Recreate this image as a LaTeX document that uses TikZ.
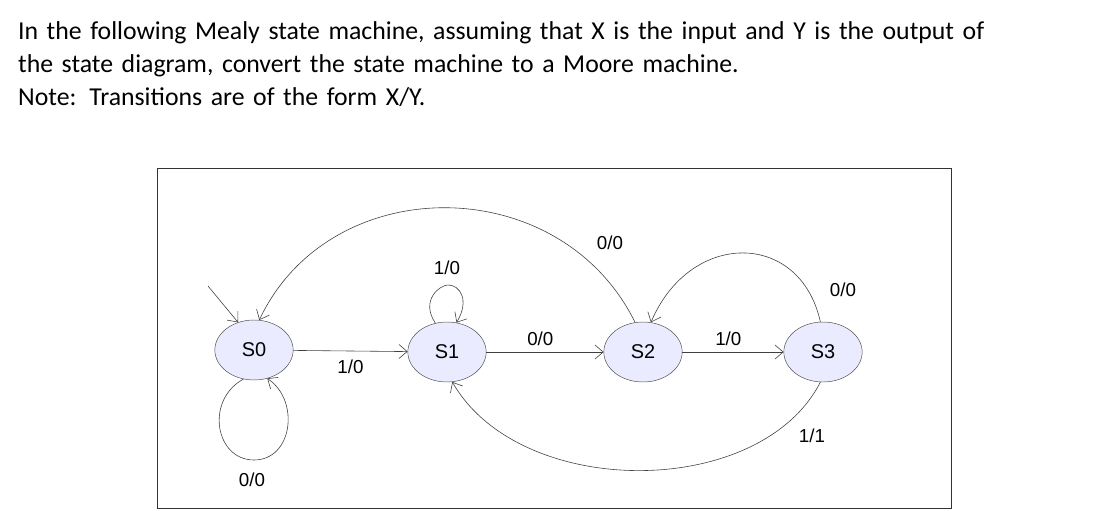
\documentclass[tikz,border=0pt]{standalone}
\usepackage{fontspec}
\setmainfont{Carlito}
\newfontfamily\diag{Liberation Sans}
\usetikzlibrary{shapes.geometric,arrows.meta}
\begin{document}
\begin{tikzpicture}[x=0.03cm,y=-0.03cm,
  st/.style={ellipse,draw=black!70,fill=blue!8,minimum width=2.35cm,minimum height=1.8cm,font=\diag\fontsize{17}{19}\selectfont},
  lbl/.style={font=\diag\fontsize{16}{18}\selectfont},
  tr/.style={draw=black!75,line width=0.5pt,-{Straight Barb[length=7pt,width=12pt]}}]
\useasboundingbox (0,0) rectangle (1096,511);
\node[anchor=west,font=\fontsize{22}{28}\selectfont,align=left,text width=31cm] (t) at (14,64) {In the following Mealy state machine, assuming that X is the input and Y is the output of\\the state diagram, convert the state machine to a Moore machine.\\Note: Transitions are of the form X/Y.};
\draw[black!80,line width=0.6pt] (157,168) rectangle (951,508);
\node[st] (s0) at (254,350) {S0};
\node[st] (s1) at (447,352) {S1};
\node[st] (s2) at (643,352) {S2};
\node[st] (s3) at (823,352) {S3};
\coordinate (init) at (208,286);
\draw[tr] (init) -- (s0.120);
\draw[tr] (s0) -- node[lbl,below,yshift=-4pt]{1/0} (s1);
\draw[tr] (s1) -- node[lbl,above,yshift=2pt,xshift=-4pt]{0/0} (s2);
\draw[tr] (s2) -- node[lbl,above,yshift=2pt,xshift=-4pt]{1/0} (s3);
\draw[tr] (s1.112) .. controls (420,300) and (440,285) .. (448,285) .. controls (460,285) and (470,300) .. (s1.72);
\node[lbl] (l1) at (447,268) {1/0};
\draw[tr] (s0.250) .. controls (205,400) and (215,460) .. (254,460) .. controls (293,460) and (300,400) .. (s0.-65);
\node[lbl] (l0) at (252,480) {0/0};
\draw[tr] (s2.105) .. controls (560,170) and (330,170) .. (s0.80);
\node[lbl] (l2) at (610,243) {0/0};
\draw[tr] (s3.95) .. controls (800,230) and (690,230) .. (s2.75);
\node[lbl] (l3) at (843,290) {0/0};
\draw[tr] (s3.-95) .. controls (760,500) and (520,500) .. (s1.-80);
\node[lbl] (l4) at (812,436) {1/1};
\end{tikzpicture}
\end{document}
